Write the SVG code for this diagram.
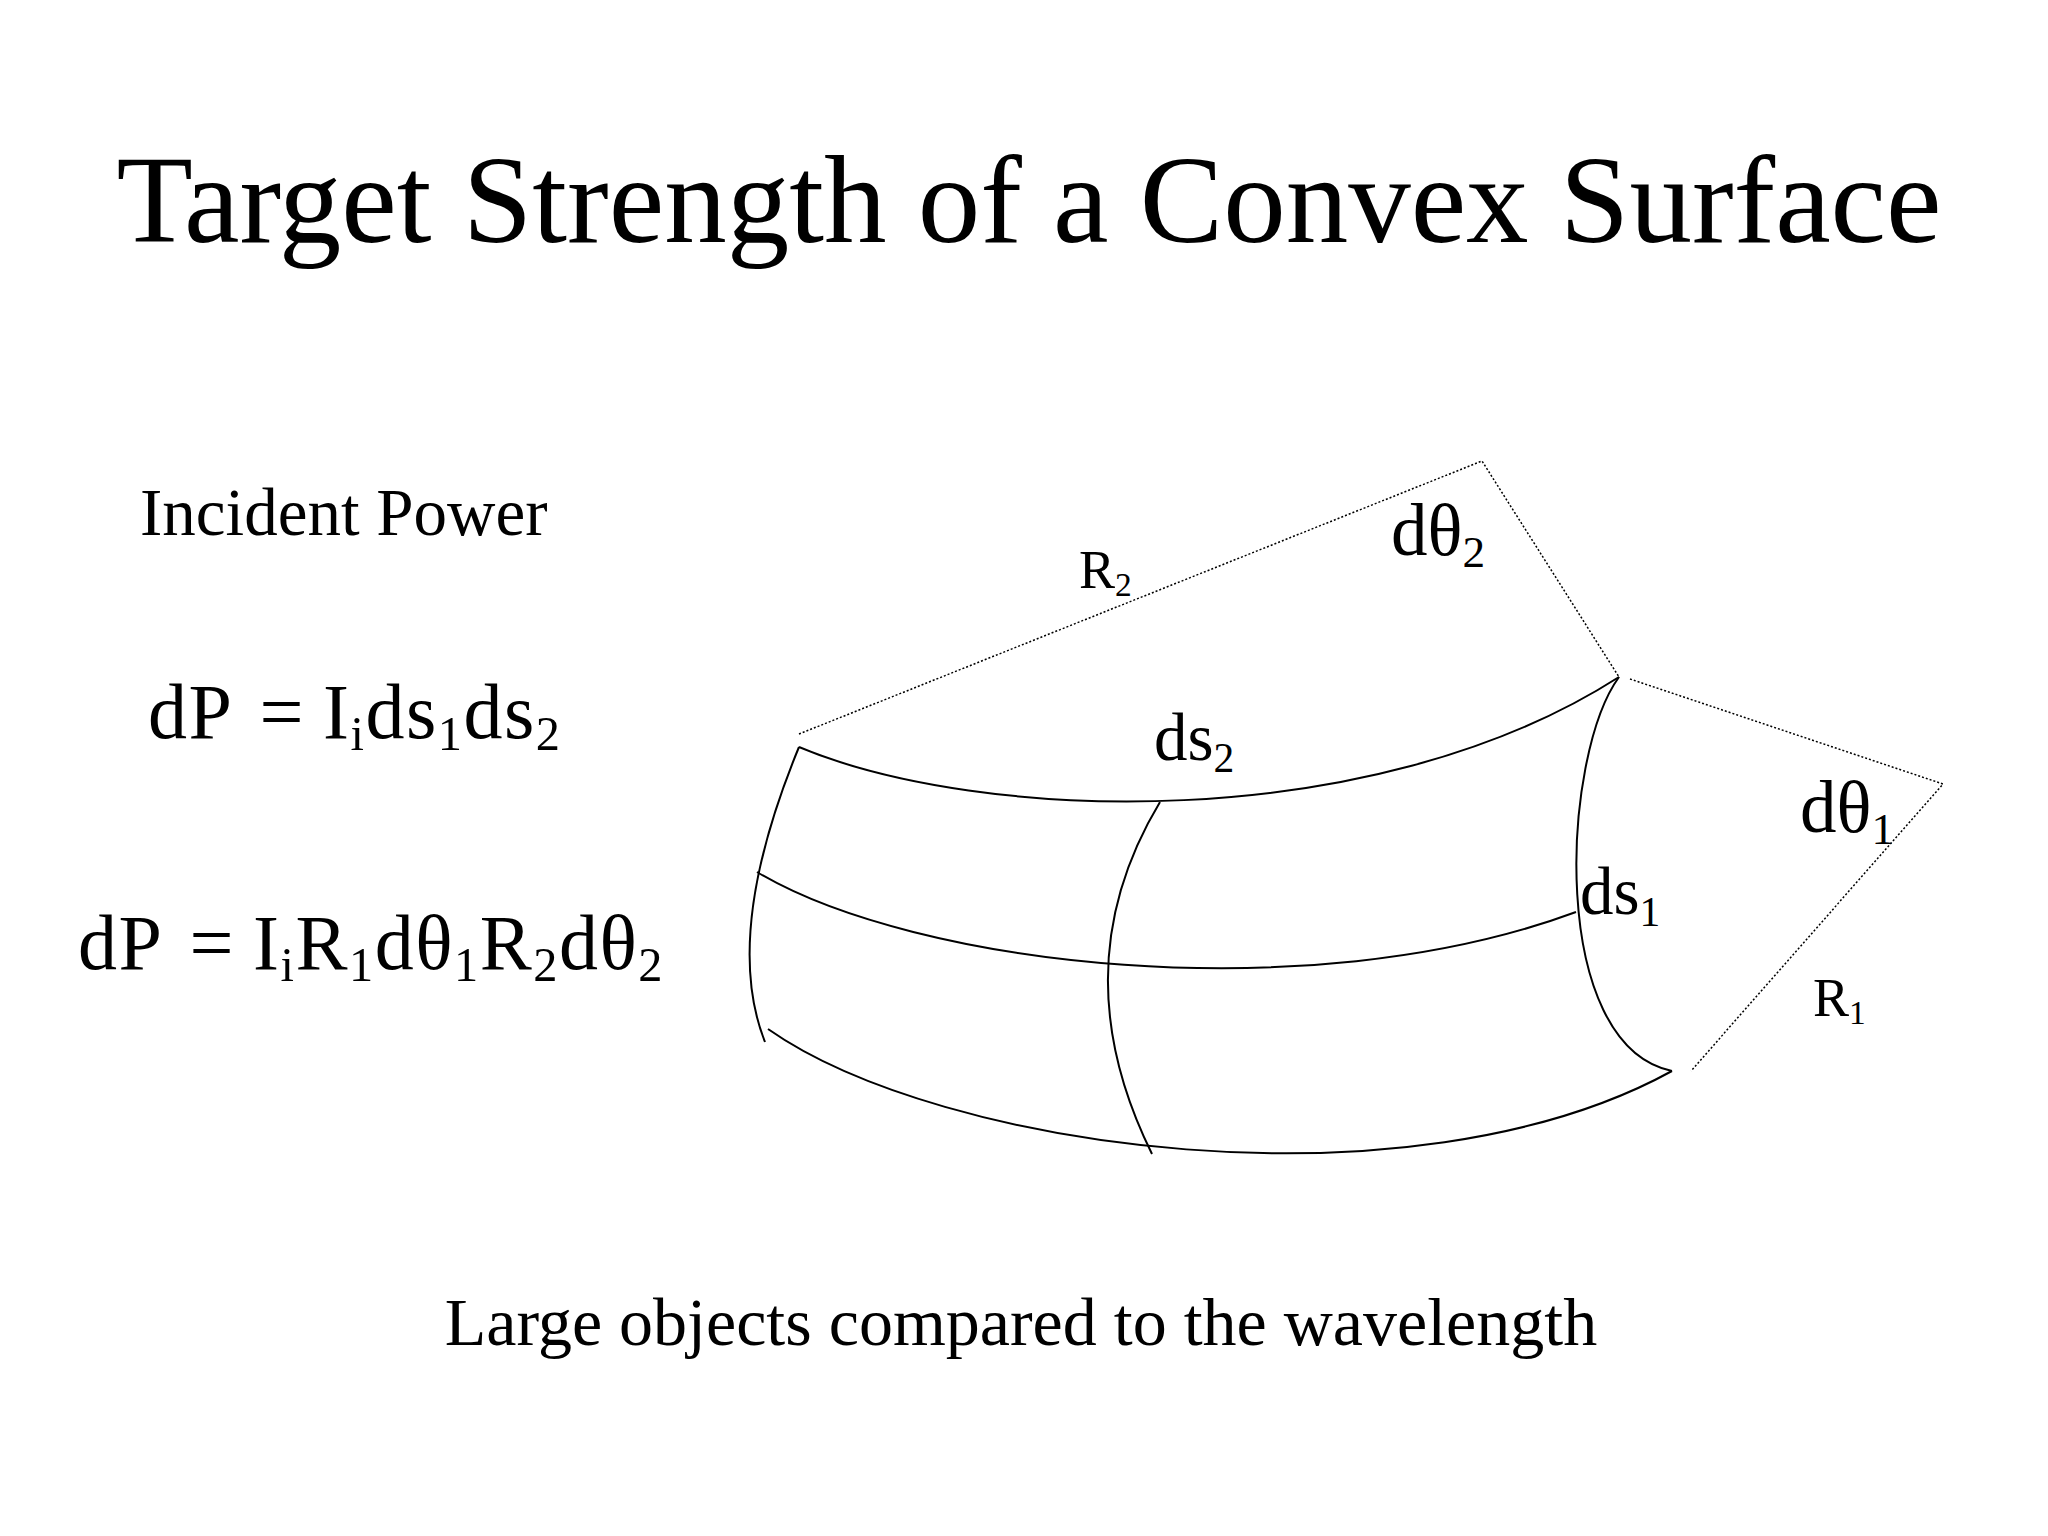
<svg xmlns="http://www.w3.org/2000/svg" width="2048" height="1536" viewBox="0 0 2048 1536">
<style>
text{font-family:"Liberation Serif","Times New Roman",serif;fill:#000}
.s{fill:none;stroke:#000;stroke-width:2}
.d{fill:none;stroke:#000;stroke-width:1.5;stroke-dasharray:2 2}
.sub{font-size:0.62em}
.eq{letter-spacing:1.5px}
</style>
<rect width="2048" height="1536" fill="#fff"/>
<text x="1029" y="242" font-size="125" text-anchor="middle">Target Strength of a Convex Surface</text>
<text x="140" y="535" font-size="67">Incident Power</text>
<text class="eq" x="148" y="738" font-size="78">dP <tspan dx="8">=</tspan><tspan dx="18">I</tspan><tspan class="sub" dy="12">i</tspan><tspan dy="-12">ds</tspan><tspan class="sub" dy="12">1</tspan><tspan dy="-12">ds</tspan><tspan class="sub" dy="12">2</tspan></text>
<text class="eq" x="78" y="969" font-size="78">dP <tspan dx="8">=</tspan><tspan dx="18">I</tspan><tspan class="sub" dy="12">i</tspan><tspan dy="-12">R</tspan><tspan class="sub" dy="12">1</tspan><tspan dy="-12">dθ</tspan><tspan class="sub" dy="12">1</tspan><tspan dy="-12">R</tspan><tspan class="sub" dy="12">2</tspan><tspan dy="-12">dθ</tspan><tspan class="sub" dy="12">2</tspan></text>
<text x="1021" y="1345" font-size="68" text-anchor="middle">Large objects compared to the wavelength</text>
<g id="surface">
<path class="s" d="M799,747 C980,823 1371,836 1619,677"/>
<path class="s" d="M757,872 C914,966 1306,1012 1576,912"/>
<path class="s" d="M768,1029 C940,1150 1410,1215 1672,1071"/>
<path class="s" d="M799,747 Q722,934 765,1042"/>
<path class="s" d="M1160,802 Q1060,968 1152,1154"/>
<path class="s" d="M1619,677 C1561,757 1548,1045 1672,1071"/>
</g>
<g id="connectors">
<path class="d" d="M799,734 L1482,461 L1619,677"/>
<path class="d" d="M1630,679 L1943,784 L1691,1071"/>
</g>
<g id="labels">
<text x="1079" y="588" font-size="54">R<tspan class="sub" dy="8">2</tspan></text>
<text x="1391" y="555" font-size="73">dθ<tspan class="sub" dy="12">2</tspan></text>
<text x="1154" y="760" font-size="67">ds<tspan class="sub" dy="12">2</tspan></text>
<text x="1800" y="832" font-size="73">dθ<tspan class="sub" dy="12">1</tspan></text>
<text x="1580" y="914" font-size="67">ds<tspan class="sub" dy="12">1</tspan></text>
<text x="1813" y="1016" font-size="54">R<tspan class="sub" dy="8">1</tspan></text>
</g>
</svg>
